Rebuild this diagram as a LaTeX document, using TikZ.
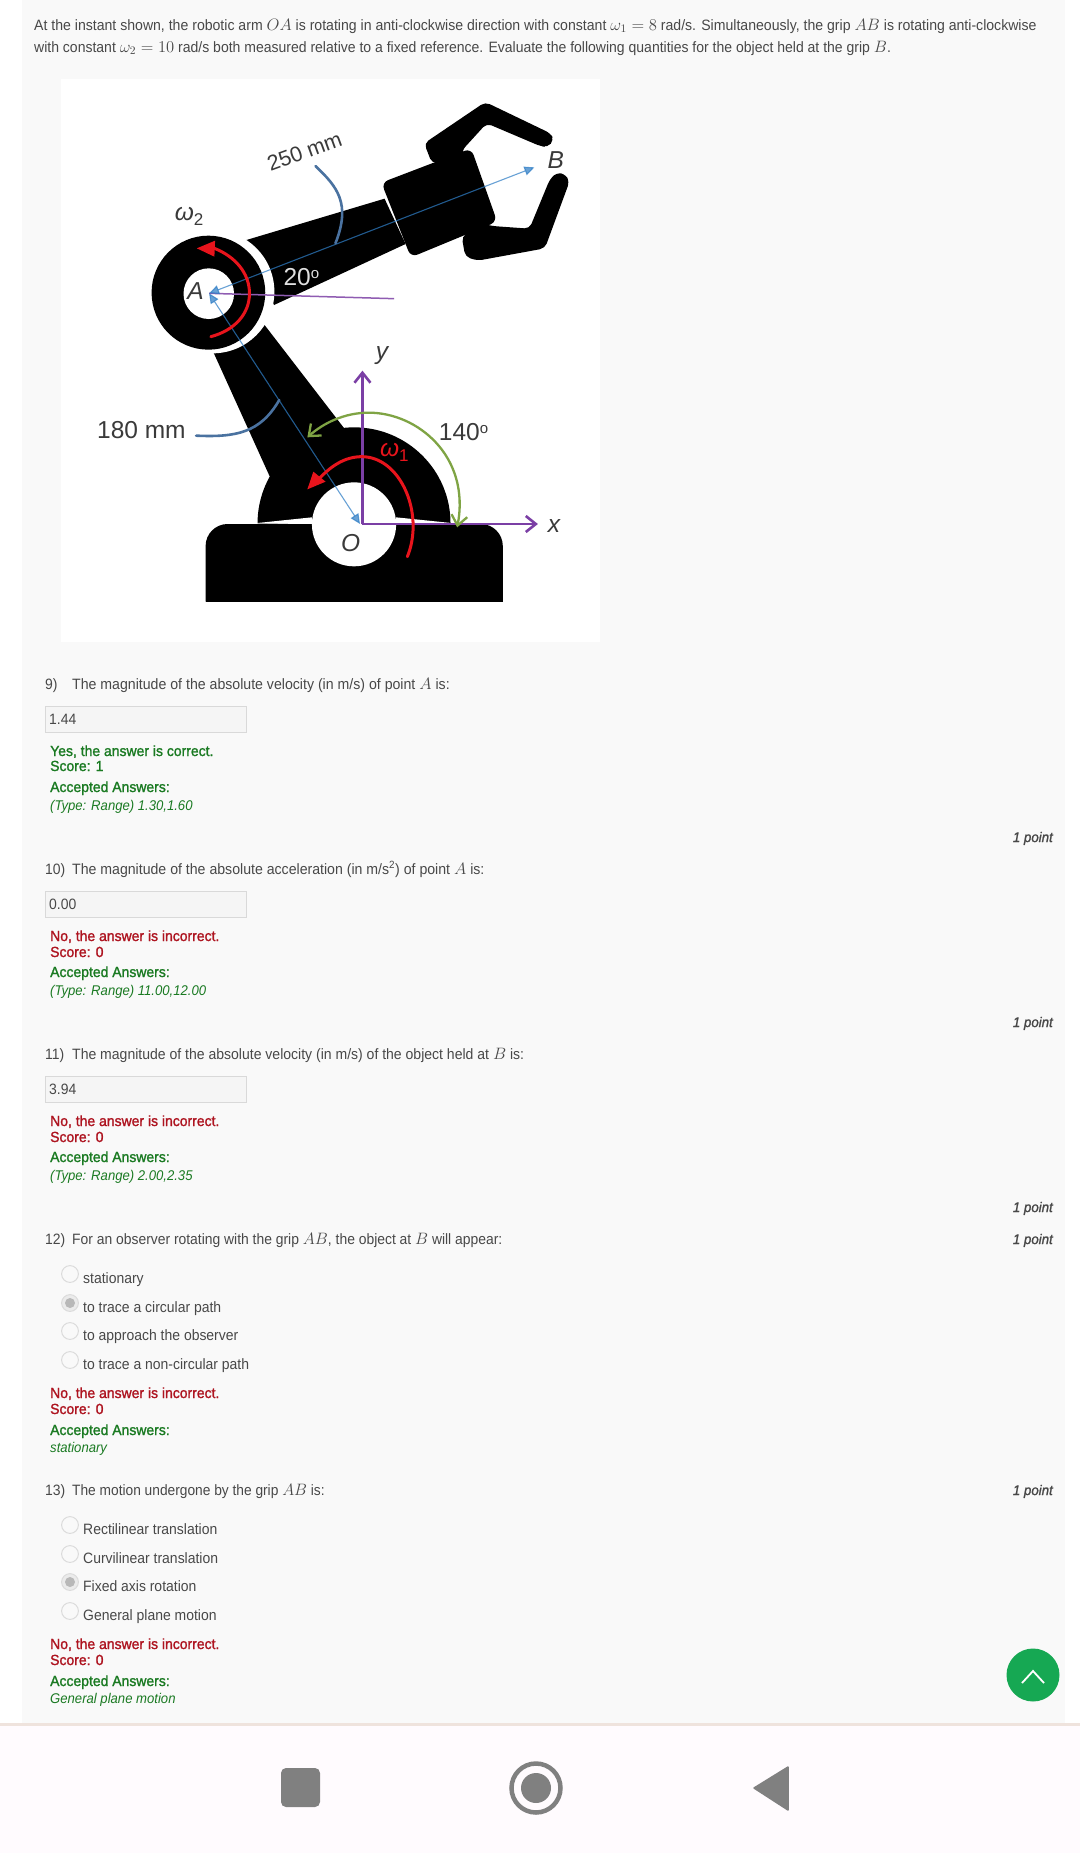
\documentclass[tikz,border=0pt]{standalone}
\usepackage{fontspec}
\setmainfont[FakeStretch=0.93]{Liberation Sans}
\newfontfamily\medfam[FakeStretch=0.95,FakeBold=1.4]{Liberation Sans}
\newfontfamily\labfam{Liberation Sans}
\newcommand{\mth}[1]{\scalebox{1.146}{\fontsize{14.4}{17}\selectfont$#1$}}
\usetikzlibrary{arrows.meta}
\definecolor{card}{HTML}{F9F9F9}
\definecolor{navbar}{HTML}{FFFBFE}
\definecolor{navline}{HTML}{EFE3DD}
\definecolor{ink}{HTML}{484848}
\definecolor{okgreen}{HTML}{1A7A22}
\definecolor{badred}{HTML}{AE1420}
\definecolor{navgray}{HTML}{808080}
\definecolor{fab}{HTML}{16A853}
\definecolor{armblue}{HTML}{2F7EC6}
\definecolor{curveblue}{HTML}{4A72A0}
\definecolor{violet}{HTML}{7B3FA5}
\definecolor{olive}{HTML}{7FA444}
\definecolor{hotred}{HTML}{E8141C}
\definecolor{labelgray}{HTML}{3A3A3A}
\tikzset{
  body/.style={anchor=base west,inner sep=0pt,text=ink,font=\fontsize{15}{17}\selectfont},
  endright/.style={anchor=base east,inner sep=0pt,text=ink,font=\medfam\fontsize{14}{16}\selectfont\itshape},
  okline/.style={anchor=base west,inner sep=0pt,text=okgreen,font=\medfam\fontsize{14.7}{16}\selectfont},
  badline/.style={anchor=base west,inner sep=0pt,text=badred,font=\medfam\fontsize{14.7}{16}\selectfont},
  ansline/.style={anchor=base west,inner sep=0pt,text=okgreen,font=\fontsize{14.1}{16}\selectfont\itshape},
  ansbox/.style={fill=black!4,draw=black!15,line width=0.8pt},
  radio/.style={fill=card,draw=black!14,line width=1pt},
  solid black/.style={fill=black,draw=none},
  lab/.style={inner sep=0pt,text=labelgray,font=\labfam\fontsize{24.5}{27}\selectfont},
  bluearm/.style={draw=armblue,line width=1.1pt,opacity=.72,{Triangle[length=10pt,width=9pt]}-{Triangle[length=10pt,width=9pt]}},
  leader/.style={draw=curveblue,line width=2.6pt,line cap=round},
  axis/.style={draw=violet,line width=2.6pt,-{Straight Barb[length=10pt,width=16pt,line width=2.6pt]}},
  redarc/.style={draw=hotred,line width=3pt,line cap=round},
  greenarc/.style={draw=olive,line width=2.3pt,{Straight Barb[length=10pt,width=16pt,line width=2.3pt]}-{Straight Barb[length=10pt,width=16pt,line width=2.3pt]}},
}
\begin{document}
\begin{tikzpicture}[x=1pt,y=-1pt]
\useasboundingbox (0,0) rectangle (1080,1853);
% page
\fill[white] (0,0) rectangle (1080,1853);
\fill[card] (22,0) rectangle (1065,1723);
\fill[navbar] (0,1723) rectangle (1080,1853);
\fill[navline] (0,1723) rectangle (1080,1726);
\fill[white] (61,79) rectangle (600,642);
% intro
\node[body] (intro1) at (34,30) {\scalebox{1.0095}[1]{At the instant shown, the robotic arm \mth{OA} is rotating in anti-clockwise direction with constant \mth{\omega_1=8} rad/s. Simultaneously, the grip \mth{AB} is rotating anti-clockwise}};
\node[body] (intro2) at (34,52) {\scalebox{1.004}[1]{with constant \mth{\omega_2=10} rad/s both measured relative to a fixed reference. Evaluate the following quantities for the object held at the grip \mth{B}.}};
% robot
\begin{scope}[shift={(60,80)},x=0.35088pt,y=-0.33333pt]
\coordinate (A) at (425,640);
\coordinate (B) at (1352,262);
\coordinate (O) at (855,1332);
\coordinate (AX) at (952,656);
\coordinate (org) at (862,1332);
\coordinate (ytip) at (862,872);
\coordinate (xtip) at (1362,1332);
\coordinate (lead1a) at (728,258);
\coordinate (lead1b) at (785,490);
\coordinate (lead2a) at (388,1067);
\coordinate (lead2b) at (625,960);
% upper arm
\fill[solid black] (525,482) -- (925,356) -- (985,492) -- (610,675) -- cycle;
\fill[solid black,rounded corners=7pt] (916,308) -- (1172,205) -- (1246,425) -- (1000,532) -- cycle;
% upper finger
\fill[solid black,rounded corners=5pt] (1060,250) -- (1038,190) -- (1212,66) -- (1398,160) -- (1408,180) -- (1390,202) -- (1368,198) -- (1216,130) -- (1145,212) -- (1150,240) -- cycle;
% lower finger
\fill[solid black,rounded corners=5pt] (1145,470) -- (1155,530) -- (1190,542) -- (1382,505) -- (1452,305) -- (1440,282) -- (1415,278) -- (1396,298) -- (1338,446) -- (1232,438) -- (1200,430) -- cycle;
% lower arm and dome
\fill[solid black] (563,1330) arc[start angle=180,end angle=360,x radius=275,y radius=288] -- (958,1330) -- (718,1330) -- cycle;
\fill[solid black] (430,800) -- (598,1190) -- (810,1045) -- (583,735) -- cycle;
\fill[white] (563,1329) -- (718,1312) -- (718,1333) -- cycle;
\fill[white] (958,1312) -- (1115,1329) -- (1115,1333) -- (958,1333) -- cycle;
% base
\fill[solid black,rounded corners=22pt] (415,1565) -- (415,1332) -- (1262,1332) -- (1262,1565) [sharp corners] -- cycle;
\fill[solid black] (415,1500) rectangle (1262,1565);
\fill[white] (838,1333) ellipse[x radius=120,y radius=126];
% ring at A
\fill[white] (435,635) ellipse[x radius=176,y radius=185];
\fill[black] (423,638) ellipse[x radius=162,y radius=171];
\fill[white] (424,641) ellipse[x radius=72,y radius=76];
% purple reference line
\draw[violet!85!white,line width=1.5pt] (A) -- (AX);
% blue dimension lines
\draw[bluearm] (A) -- (B);
\draw[bluearm] (A) -- (O);
% leaders
\draw[leader] (lead1a) .. controls (790,320) and (830,370) .. (lead1b);
\draw[leader] (lead2a) .. controls (500,1072) and (570,1060) .. (lead2b);
% axes
\draw[axis] (org) -- (ytip);
\draw[axis] (org) -- (xtip);
% green angle
\draw[greenarc] (1132,1342) .. controls (1170,1130) and (1020,998) .. (880,998) .. controls (810,998) and (750,1030) .. (705,1072);
% omega_1 arc
\draw[redarc] (990,1430) .. controls (1040,1300) and (970,1130) .. (860,1130) .. controls (810,1130) and (770,1160) .. (735,1200);
\fill[hotred] (705,1228) -- (722,1175) -- (757,1205) -- cycle;
% omega_2 arc
\draw[redarc] (430,770) .. controls (500,750) and (540,700) .. (540,640) .. controls (540,580) and (500,530) .. (440,505);
\fill[hotred] (390,505) -- (442,482) -- (440,530) -- cycle;
% labels
\node[lab,rotate=20,font=\labfam\fontsize{21.5}{24}\selectfont] (l250) at (697,215) {250 mm};
\node[lab] (lw2) at (368,410) {\itshape ω\raisebox{-5pt}{\fontsize{17}{17}\selectfont\upshape 2}};
\node[lab] (lA) at (386,632) {\itshape A};
\node[lab] (lB) at (1413,240) {\itshape B};
\node[lab,text=black!12] (l20) at (688,590) {20\raisebox{7pt}{\fontsize{15}{15}\selectfont o}};
\node[lab] (ly) at (918,826) {\itshape y};
\node[lab] (lx) at (1408,1337) {\itshape x};
\node[lab] (lO) at (828,1388) {\itshape O};
\node[lab] (l180) at (232,1050) {180 mm};
\node[lab] (l140) at (1150,1056) {140\raisebox{7pt}{\fontsize{15}{15}\selectfont o}};
\node[lab,text=hotred] (lw1) at (953,1116) {\itshape ω\raisebox{-5pt}{\fontsize{17}{17}\selectfont\upshape 1}};
\end{scope}
% Q9
\node[body] (q9n) at (45,689) {9)};
\node[body] (q9) at (72,689) {\scalebox{1.013}[1]{The magnitude of the absolute velocity (in m/s) of point \mth{A} is:}};
\draw[ansbox] (45,706) rectangle (246,732);
\node[body] (a9) at (49,724) {1.44};
\node[okline] (r9) at (50,756) {Yes, the answer is correct.};
\node[okline] (s9) at (50,771) {Score: 1};
\node[okline] (aa9) at (50,792) {Accepted Answers:};
\node[ansline] (t9) at (50,810) {(Type: Range) 1.30,1.60};
\node[endright] (p10) at (1053,842) {1 point};
% Q10
\node[body] (q10n) at (45,874) {10)};
\node[body] (q10) at (72,874) {\scalebox{1.012}[1]{The magnitude of the absolute acceleration (in m/s\textsuperscript{2}) of point \mth{A} is:}};
\draw[ansbox] (45,891) rectangle (246,917);
\node[body] (a10) at (49,909) {0.00};
\node[badline] (r10) at (50,941) {No, the answer is incorrect.};
\node[badline] (s10) at (50,957) {Score: 0};
\node[okline] (aa10) at (50,977) {Accepted Answers:};
\node[ansline] (t10) at (50,995) {(Type: Range) 11.00,12.00};
\node[endright] (p11) at (1053,1027) {1 point};
% Q11
\node[body] (q11n) at (45,1059) {11)};
\node[body] (q11) at (72,1059) {\scalebox{1.005}[1]{The magnitude of the absolute velocity (in m/s) of the object held at \mth{B} is:}};
\draw[ansbox] (45,1076) rectangle (246,1102);
\node[body] (a11) at (49,1094) {3.94};
\node[badline] (r11) at (50,1126) {No, the answer is incorrect.};
\node[badline] (s11) at (50,1142) {Score: 0};
\node[okline] (aa11) at (50,1162) {Accepted Answers:};
\node[ansline] (t11) at (50,1180) {(Type: Range) 2.00,2.35};
\node[endright] (p12a) at (1053,1212) {1 point};
% Q12
\node[body] (q12n) at (45,1244) {12)};
\node[body] (q12) at (72,1244) {\scalebox{0.995}[1]{For an observer rotating with the grip \mth{AB}, the object at \mth{B} will appear:}};
\node[endright] (p12b) at (1053,1244) {1 point};
\draw[radio] (70,1274) circle[radius=8.4];
\draw[radio,fill=black!8] (70,1303) circle[radius=8.4];
\fill[black!28] (70,1303) circle[radius=5];
\draw[radio] (70,1331) circle[radius=8.4];
\draw[radio] (70,1360) circle[radius=8.4];
\node[body] (o12a) at (83,1283) {stationary};
\node[body] (o12b) at (83,1312) {to trace a circular path};
\node[body] (o12c) at (83,1340) {to approach the observer};
\node[body] (o12d) at (83,1369) {to trace a non-circular path};
\node[badline] (r12) at (50,1398) {No, the answer is incorrect.};
\node[badline] (s12) at (50,1414) {Score: 0};
\node[okline] (aa12) at (50,1435) {Accepted Answers:};
\node[ansline] (t12) at (50,1452) {stationary};
% Q13
\node[body] (q13n) at (45,1495) {13)};
\node[body] (q13) at (72,1495) {\scalebox{0.985}[1]{The motion undergone by the grip \mth{AB} is:}};
\node[endright] (p13) at (1053,1495) {1 point};
\draw[radio] (70,1525) circle[radius=8.4];
\draw[radio] (70,1554) circle[radius=8.4];
\draw[radio,fill=black!8] (70,1582) circle[radius=8.4];
\fill[black!28] (70,1582) circle[radius=5];
\draw[radio] (70,1611) circle[radius=8.4];
\node[body] (o13a) at (83,1534) {Rectilinear translation};
\node[body] (o13b) at (83,1563) {Curvilinear translation};
\node[body] (o13c) at (83,1591) {Fixed axis rotation};
\node[body] (o13d) at (83,1620) {General plane motion};
\node[badline] (r13) at (50,1649) {No, the answer is incorrect.};
\node[badline] (s13) at (50,1665) {Score: 0};
\node[okline] (aa13) at (50,1686) {Accepted Answers:};
\node[ansline] (t13) at (50,1703) {General plane motion};
% floating button
\fill[fab] (1033,1675) circle[radius=26.5];
\draw[white,line width=1.8pt] (1022,1683) -- (1033,1671) -- (1044,1683);
% nav bar
\fill[navgray,rounded corners=5pt] (281,1768) rectangle (320,1807);
\draw[navgray,line width=4.5pt] (536,1788) circle[radius=24.5];
\fill[navgray] (536,1788) circle[radius=15];
\fill[navgray,draw=navgray,line width=1.5pt,line join=round] (754,1788) -- (788,1767) -- (788,1810) -- cycle;
\end{tikzpicture}
\end{document}
